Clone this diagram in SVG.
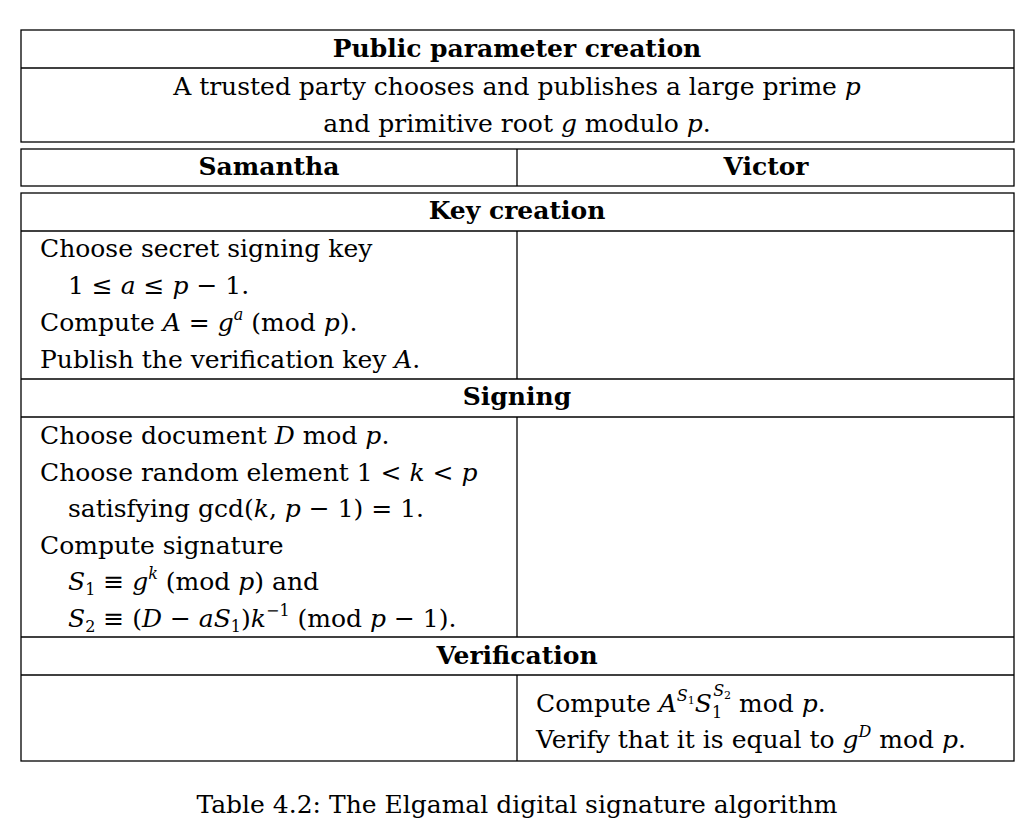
<svg xmlns="http://www.w3.org/2000/svg" width="1032" height="834" viewBox="0 0 1032 834">
<style>
text{font-family:"DejaVu Serif","Liberation Serif",serif;font-size:25px;fill:#000}
.b{font-weight:bold}
.m{text-anchor:middle}
.i{font-style:italic}
.s{font-size:16px}
.t{font-size:11px}
.f{stroke:#000;stroke-width:1.3;fill:none}
line{stroke:#000;stroke-width:1.3}
</style>
<rect width="1032" height="834" fill="#fff"/>
<rect class="f" x="21" y="30" width="993" height="112"/>
<line x1="21" y1="68" x2="1014" y2="68"/>
<rect class="f" x="21" y="149" width="993" height="37"/>
<line x1="517" y1="149" x2="517" y2="186"/>
<rect class="f" x="21" y="193" width="993" height="568"/>
<line x1="21" y1="231" x2="1014" y2="231"/>
<line x1="21" y1="379" x2="1014" y2="379"/>
<line x1="21" y1="417" x2="1014" y2="417"/>
<line x1="21" y1="637" x2="1014" y2="637"/>
<line x1="21" y1="675" x2="1014" y2="675"/>
<line x1="517" y1="231" x2="517" y2="379"/>
<line x1="517" y1="417" x2="517" y2="637"/>
<line x1="517" y1="675" x2="517" y2="761"/>

<text class="b m" x="517" y="57">Public parameter creation</text>
<text class="m" x="517" y="95">A trusted party chooses and publishes a large prime <tspan class="i">p</tspan></text>
<text class="m" x="517" y="132">and primitive root <tspan class="i">g</tspan> modulo <tspan class="i">p</tspan>.</text>
<text class="b m" x="269" y="175">Samantha</text>
<text class="b m" x="766" y="175">Victor</text>
<text class="b m" x="517" y="219">Key creation</text>
<text x="40" y="257">Choose secret signing key</text>
<text x="68" y="294">1 ≤ <tspan class="i">a</tspan> ≤ <tspan class="i">p</tspan> − 1.</text>
<text x="40" y="331">Compute <tspan class="i">A</tspan> = <tspan class="i">g</tspan><tspan class="i s" dy="-11">a</tspan><tspan dy="11"> (mod </tspan><tspan class="i">p</tspan>).</text>
<text x="40" y="368">Publish the verification key <tspan class="i">A</tspan>.</text>
<text class="b m" x="517" y="405">Signing</text>
<text x="40" y="444">Choose document <tspan class="i">D</tspan> mod <tspan class="i">p</tspan>.</text>
<text x="40" y="481">Choose random element 1 &lt; <tspan class="i">k</tspan> &lt; <tspan class="i">p</tspan></text>
<text x="68" y="517">satisfying gcd(<tspan class="i">k</tspan>, <tspan class="i">p</tspan> − 1) = 1.</text>
<text x="40" y="554">Compute signature</text>
<text x="68" y="590"><tspan class="i">S</tspan><tspan class="s" dy="5">1</tspan><tspan dy="-5"> ≡ </tspan><tspan class="i">g</tspan><tspan class="i s" dy="-11">k</tspan><tspan dy="11"> (mod </tspan><tspan class="i">p</tspan>) and</text>
<text x="68" y="627"><tspan class="i">S</tspan><tspan class="s" dy="5">2</tspan><tspan dy="-5"> ≡ (</tspan><tspan class="i">D</tspan> − <tspan class="i">aS</tspan><tspan class="s" dy="5">1</tspan><tspan dy="-5">)</tspan><tspan class="i">k</tspan><tspan class="s" dy="-11">−1</tspan><tspan dy="11"> (mod </tspan><tspan class="i">p</tspan> − 1).</text>
<text class="b m" x="517" y="664">Verification</text>
<text x="536" y="712">Compute <tspan class="i">A</tspan><tspan class="i s" dy="-11">S</tspan><tspan class="t" dy="3">1</tspan><tspan class="i" dy="8">S</tspan><tspan class="s" dy="6">1</tspan><tspan class="i s" dx="-9" dy="-22">S</tspan><tspan class="t" dy="3">2</tspan><tspan dy="13"> mod </tspan><tspan class="i">p</tspan>.</text>
<text x="536" y="748">Verify that it is equal to <tspan class="i">g</tspan><tspan class="i s" dy="-11">D</tspan><tspan dy="11"> mod </tspan><tspan class="i">p</tspan>.</text>
<text class="m" x="517" y="813">Table 4.2: The Elgamal digital signature algorithm</text>
</svg>
